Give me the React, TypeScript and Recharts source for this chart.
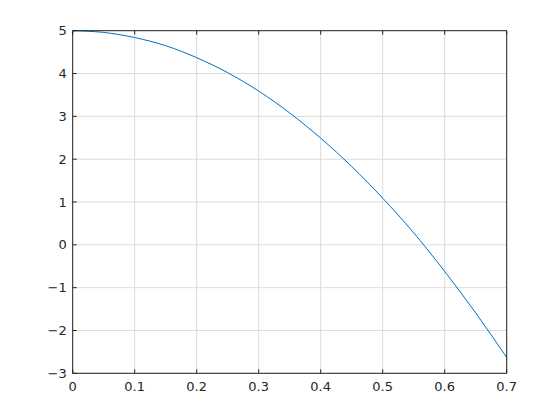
import { LineChart, Line, XAxis, YAxis, CartesianGrid } from 'recharts';

const tValues = [0, 0.05, 0.1, 0.15, 0.2, 0.25, 0.3, 0.35, 0.4, 0.45, 0.5, 0.55, 0.6, 0.65, 0.7];
const yValues = [5, 4.96, 4.84, 4.65, 4.37, 4.02, 3.59, 3.08, 2.49, 1.83, 1.09, 0.28, -0.62, -1.59, -2.63];
const xTicks = [0, 0.1, 0.2, 0.3, 0.4, 0.5, 0.6, 0.7];
const yTicks = [-3, -2, -1, 0, 1, 2, 3, 4, 5];

const data = tValues.map((t, i) => ({ t, y: yValues[i] }));

const AXIS = '#262626';
const FONT = 'DejaVu Sans, sans-serif';
const TICK_LEN = 4;

const fmt = (v: number) => String(v).replace('-', '\u2212');

// bottom axis: label below, tick line pointing up into the plot
function BottomTick({ x, y, payload }: any) {
  const axisY = y - 8;
  return (
    <g>
      <line x1={x} x2={x} y1={axisY} y2={axisY - TICK_LEN} stroke={AXIS} />
      <text x={x} y={y} dy={10} textAnchor="middle" fill={AXIS} fontSize={13} fontFamily={FONT}>
        {fmt(payload.value)}
      </text>
    </g>
  );
}

function LeftTick({ x, y, payload }: any) {
  const axisX = x + 6;
  return (
    <g>
      <line x1={axisX} x2={axisX + TICK_LEN} y1={y} y2={y} stroke={AXIS} />
      <text x={x} y={y} dy={4.5} textAnchor="end" fill={AXIS} fontSize={13} fontFamily={FONT}>
        {fmt(payload.value)}
      </text>
    </g>
  );
}

function TopTick({ x, y }: any) {
  return <line x1={x} x2={x} y1={y} y2={y + TICK_LEN} stroke={AXIS} />;
}

function RightTick({ x, y }: any) {
  return <line x1={x} x2={x - TICK_LEN} y1={y} y2={y} stroke={AXIS} />;
}

export default function App() {
  return (
    <div style={{ position: 'absolute', left: 0, top: 0, width: 560, height: 420, background: '#fff' }}>
      <LineChart width={560} height={420} data={data} margin={{ top: 20.7, right: 43.3, bottom: 16.7, left: 32.7 }}>
        <CartesianGrid xAxisId="bottom" yAxisId="left" stroke="#dcdcdc" vertical horizontal />
        <XAxis
          xAxisId="bottom"
          dataKey="t"
          type="number"
          domain={[0, 0.7]}
          ticks={xTicks}
          height={30}
          tickSize={0}
          tickMargin={8}
          tickLine={false}
          axisLine={{ stroke: AXIS }}
          tick={<BottomTick />}
          interval={0}
        />
        <XAxis
          xAxisId="top"
          orientation="top"
          dataKey="t"
          type="number"
          domain={[0, 0.7]}
          ticks={xTicks}
          height={10}
          tickSize={0}
          tickMargin={0}
          tickLine={false}
          axisLine={{ stroke: AXIS }}
          tick={<TopTick />}
          interval={0}
        />
        <YAxis
          yAxisId="left"
          type="number"
          domain={[-3, 5]}
          ticks={yTicks}
          width={40}
          tickSize={0}
          tickMargin={6}
          tickLine={false}
          axisLine={{ stroke: AXIS }}
          tick={<LeftTick />}
          interval={0}
        />
        <YAxis
          yAxisId="right"
          orientation="right"
          type="number"
          domain={[-3, 5]}
          ticks={yTicks}
          width={10}
          tickSize={0}
          tickMargin={0}
          tickLine={false}
          axisLine={{ stroke: AXIS }}
          tick={<RightTick />}
          interval={0}
        />
        <Line
          xAxisId="bottom"
          yAxisId="left"
          type="monotone"
          dataKey="y"
          stroke="#0072BD"
          strokeWidth={1}
          dot={false}
          isAnimationActive={false}
        />
      </LineChart>
    </div>
  );
}
